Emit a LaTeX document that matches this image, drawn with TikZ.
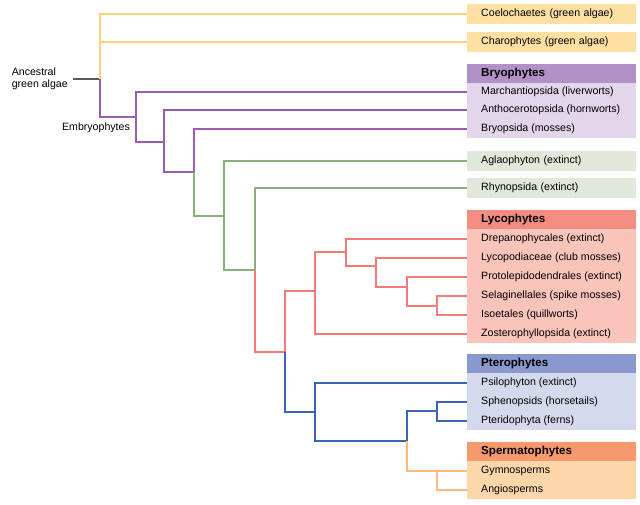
\documentclass[tikz,border=0pt]{standalone}
\usepackage{fontspec}
\setmainfont{Liberation Sans}

\definecolor{algaeline}{HTML}{FFD17E}
\definecolor{algaebox}{HTML}{FFE0A3}
\definecolor{mossline}{HTML}{9B5BB0}
\definecolor{mosshead}{HTML}{B291C6}
\definecolor{mossbox}{HTML}{E3D6EB}
\definecolor{fernline}{HTML}{86B07C}
\definecolor{fernbox}{HTML}{DFE8DA}
\definecolor{lycoline}{HTML}{F27A78}
\definecolor{lycohead}{HTML}{F48C82}
\definecolor{lycobox}{HTML}{F9C5BB}
\definecolor{pteroline}{HTML}{3F62B5}
\definecolor{pterohead}{HTML}{8999CF}
\definecolor{pterobox}{HTML}{D4D9EE}
\definecolor{seedline}{HTML}{FDBA7C}
\definecolor{seedhead}{HTML}{F6996D}
\definecolor{seedbox}{HTML}{FDD6AA}

\tikzset{
  branch/.style={line width=1.9pt},
  leaf/.style={anchor=west, inner xsep=14pt, inner ysep=0pt,
    font=\fontsize{10.6}{12}\selectfont},
  single/.style={leaf, minimum height=20pt, text width=141pt, align=left},
  head/.style={anchor=north west, inner xsep=14pt, inner ysep=0pt,
    minimum height=19pt, text width=141pt, align=left,
    font=\fontsize{11.6}{13}\selectfont\bfseries},
  label/.style={font=\fontsize{10.6}{12}\selectfont, align=left},
}

\begin{document}
\begin{tikzpicture}[x=1pt,y=-1pt]
  \useasboundingbox (0,0) rectangle (640,505);

  % boxes on the right
  \node[single, fill=algaebox] (coel) at (467,14) {Coelochaetes (green algae)};
  \node[single, fill=algaebox] (char) at (467,42) {Charophytes (green algae)};

  \fill[mossbox] (467,83) rectangle (636,138);
  \node[head, fill=mosshead] (bryohead) at (467,64) {Bryophytes};
  \foreach \t/\n/\y in {Marchantiopsida (liverworts)/march/92,
      Anthocerotopsida (hornworts)/antho/110, Bryopsida (mosses)/bryo/129}
    \node[leaf] (\n) at (467,\y) {\t};

  \node[single, fill=fernbox] (aglao) at (467,161) {Aglaophyton (extinct)};
  \node[single, fill=fernbox] (rhyn) at (467,188) {Rhynopsida (extinct)};

  \fill[lycobox] (467,229) rectangle (636,343);
  \node[head, fill=lycohead] (lycohead) at (467,210) {Lycophytes};
  \foreach \t/\n/\y in {Drepanophycales (extinct)/drep/239,
      Lycopodiaceae (club mosses)/lycop/258, Protolepidodendrales (extinct)/proto/277,
      Selaginellales (spike mosses)/selag/296, Isoetales (quillworts)/isoet/315,
      Zosterophyllopsida (extinct)/zoster/334}
    \node[leaf] (\n) at (467,\y) {\t};

  \fill[pterobox] (467,373) rectangle (636,430);
  \node[head, fill=pterohead] (pterohead) at (467,354) {Pterophytes};
  \foreach \t/\n/\y in {Psilophyton (extinct)/psilo/383,
      Sphenopsids (horsetails)/sphen/402, Pteridophyta (ferns)/pterid/421}
    \node[leaf] (\n) at (467,\y) {\t};

  \fill[seedbox] (467,461) rectangle (636,499);
  \node[head, fill=seedhead] (seedhead) at (467,442) {Spermatophytes};
  \foreach \t/\n/\y in {Gymnosperms/gymno/471, Angiosperms/angio/490}
    \node[leaf] (\n) at (467,\y) {\t};

  % branch points
  \coordinate (n0) at (100,79);
  \coordinate (n1) at (136,117);
  \coordinate (n2) at (164,142);
  \coordinate (n3) at (194,172);
  \coordinate (n4) at (224,216);
  \coordinate (n5) at (255,270);
  \coordinate (n6) at (285,352);
  \coordinate (l1) at (315,291);
  \coordinate (l2) at (346,252);
  \coordinate (l3) at (376,266);
  \coordinate (l4) at (407,287);
  \coordinate (l5) at (437,306);
  \coordinate (p1) at (315,412);
  \coordinate (p2) at (407,441);
  \coordinate (p3) at (437,411);
  \coordinate (s1) at (437,471);

  % left labels
  \node[label, anchor=east, inner xsep=5pt] (anc) at (73,79) {Ancestral\\green algae};
  \node[label] (embryo) at (96,128) {Embryophytes};

  % tree
  \draw[branch, black!65] (anc.east) -- (n0);
  \draw[branch, algaeline] (coel.west) -| (n0);
  \draw[branch, algaeline] (char.west) -- (char.west -| n0);
  \draw[branch, mossline] (n0) |- (n1);
  \draw[branch, mossline] (march.west) -| (n1) |- (n2);
  \draw[branch, mossline] (antho.west) -| (n2) |- (n3);
  \draw[branch, mossline] (bryo.west) -| (n3);
  \draw[branch, fernline] (n3) |- (n4);
  \draw[branch, fernline] (aglao.west) -| (n4) |- (n5);
  \draw[branch, fernline] (rhyn.west) -| (n5);
  \draw[branch, lycoline] (n5) |- (n6);
  \draw[branch, lycoline] (n6) |- (l1);
  \draw[branch, lycoline] (zoster.west) -| (l1) |- (l2);
  \draw[branch, lycoline] (drep.west) -| (l2) |- (l3);
  \draw[branch, lycoline] (lycop.west) -| (l3) |- (l4);
  \draw[branch, lycoline] (proto.west) -| (l4) |- (l5);
  \draw[branch, lycoline] (selag.west) -| (l5);
  \draw[branch, lycoline] (isoet.west) -| (l5);
  \draw[branch, pteroline] (n6) |- (p1);
  \draw[branch, pteroline] (psilo.west) -| (p1) |- (p2);
  \draw[branch, pteroline] (p2) |- (p3);
  \draw[branch, pteroline] (sphen.west) -| (p3);
  \draw[branch, pteroline] (pterid.west) -| (p3);
  \draw[branch, seedline] (p2) |- (gymno.west);
  \draw[branch, seedline] (angio.west) -| (s1);
\end{tikzpicture}
\end{document}
